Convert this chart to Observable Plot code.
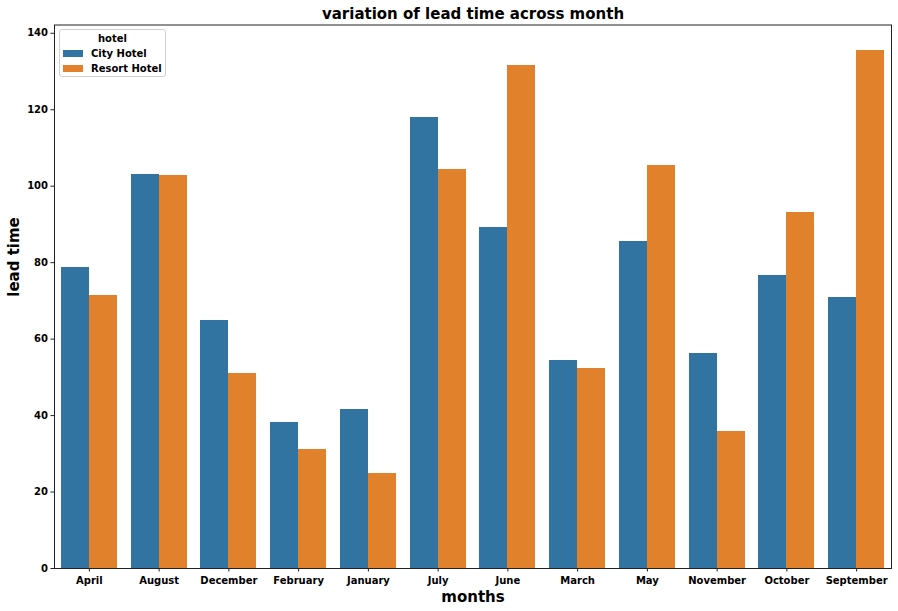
<!DOCTYPE html>
<html>
<head>
<meta charset="utf-8">
<script src="https://cdn.jsdelivr.net/npm/d3@7"></script>
<script src="https://cdn.jsdelivr.net/npm/@observablehq/plot@0.6"></script>
<style>
  body { margin: 0; background: #fff; font-family: "DejaVu Sans", sans-serif; }
  #wrap { position: relative; width: 898px; height: 611px; }
  #legend {
    position: absolute; left: 59px; top: 29px; width: 105px; height: 46px;
    border: 1px solid #d0d0d0; border-radius: 3px; background: rgba(255,255,255,0.8);
    font-family: "DejaVu Sans", sans-serif; font-weight: bold; font-size: 10px; color: #000;
  }
  #legend .title { position: absolute; left: 0; right: 0; top: 3px; text-align: center; }
  #legend .row { position: absolute; left: 3px; display: flex; align-items: center; }
  #legend .sw { width: 20px; height: 7px; margin-right: 8px; }
</style>
</head>
<body>
<div id="wrap"></div>
<script>
const months = ["April","August","December","February","January","July","June","March","May","November","October","September"];
const hotels = ["City Hotel","Resort Hotel"];
const cityLead = [78.7, 103.0, 64.8, 38.2, 41.6, 117.9, 89.1, 54.4, 85.5, 56.2, 76.6, 70.8];
const resortLead = [71.4, 102.7, 51.0, 31.1, 24.8, 104.5, 131.5, 52.3, 105.3, 35.8, 93.0, 135.4];
const colors = ["#3274a1", "#e1812c"];
const yTicks = [0, 20, 40, 60, 80, 100, 120, 140];

const rows = [];
months.forEach((m, i) => {
  rows.push({month: m, i, hotel: hotels[0], h: 0, value: cityLead[i]});
  rows.push({month: m, i, hotel: hotels[1], h: 1, value: resortLead[i]});
});
const yMax = d3.max(rows, d => d.value) * 1.05;

const font = {fontFamily: "DejaVu Sans", fontWeight: "bold", lineAnchor: "middle", fill: "#000"};

const chart = Plot.plot({
  width: 898, height: 611,
  marginLeft: 54, marginRight: 7, marginTop: 24.5, marginBottom: 43,
  style: {fontFamily: "DejaVu Sans", background: "#fff", color: "#000"},
  x: {type: "linear", domain: [-0.5, months.length - 0.5], axis: null},
  y: {domain: [0, yMax], axis: null},
  color: {domain: hotels, range: colors},
  marks: [
    Plot.rectY(rows, {
      x1: d => d.i - 0.4 + d.h * 0.4,
      x2: d => d.i + d.h * 0.4,
      y1: 0, y2: "value",
      fill: "hotel",
      shapeRendering: "crispEdges"
    }),
    Plot.axisX({ticks: d3.range(months.length), tickFormat: i => months[i], tickSize: 3.5, tickPadding: 5,
      fontSize: 10, fontWeight: "bold", stroke: "#222", label: null}),
    Plot.axisY({ticks: yTicks, tickSize: 3.5, tickPadding: 3, tickFormat: d => d,
      fontSize: 10, fontWeight: "bold", stroke: "#222", label: null}),
    Plot.frame({stroke: "#222", strokeWidth: 1}),
    Plot.text(["variation of lead time across month"], {frameAnchor: "top", dy: -11, fontSize: 15, ...font}),
    Plot.text(["months"], {frameAnchor: "bottom", dy: 29, fontSize: 15, ...font}),
    Plot.text(["lead time"], {frameAnchor: "left", dx: -40, rotate: -90, fontSize: 15, ...font})
  ]
});

const wrap = document.getElementById("wrap");
wrap.appendChild(chart);

const legend = document.createElement("div");
legend.id = "legend";
legend.innerHTML = `<div class="title">hotel</div>` +
  hotels.map((h, k) => `<div class="row" style="top:${17.5 + k * 15.5}px"><div class="sw" style="background:${colors[k]}"></div><span>${h}</span></div>`).join("");
wrap.appendChild(legend);
</script>
</body>
</html>
